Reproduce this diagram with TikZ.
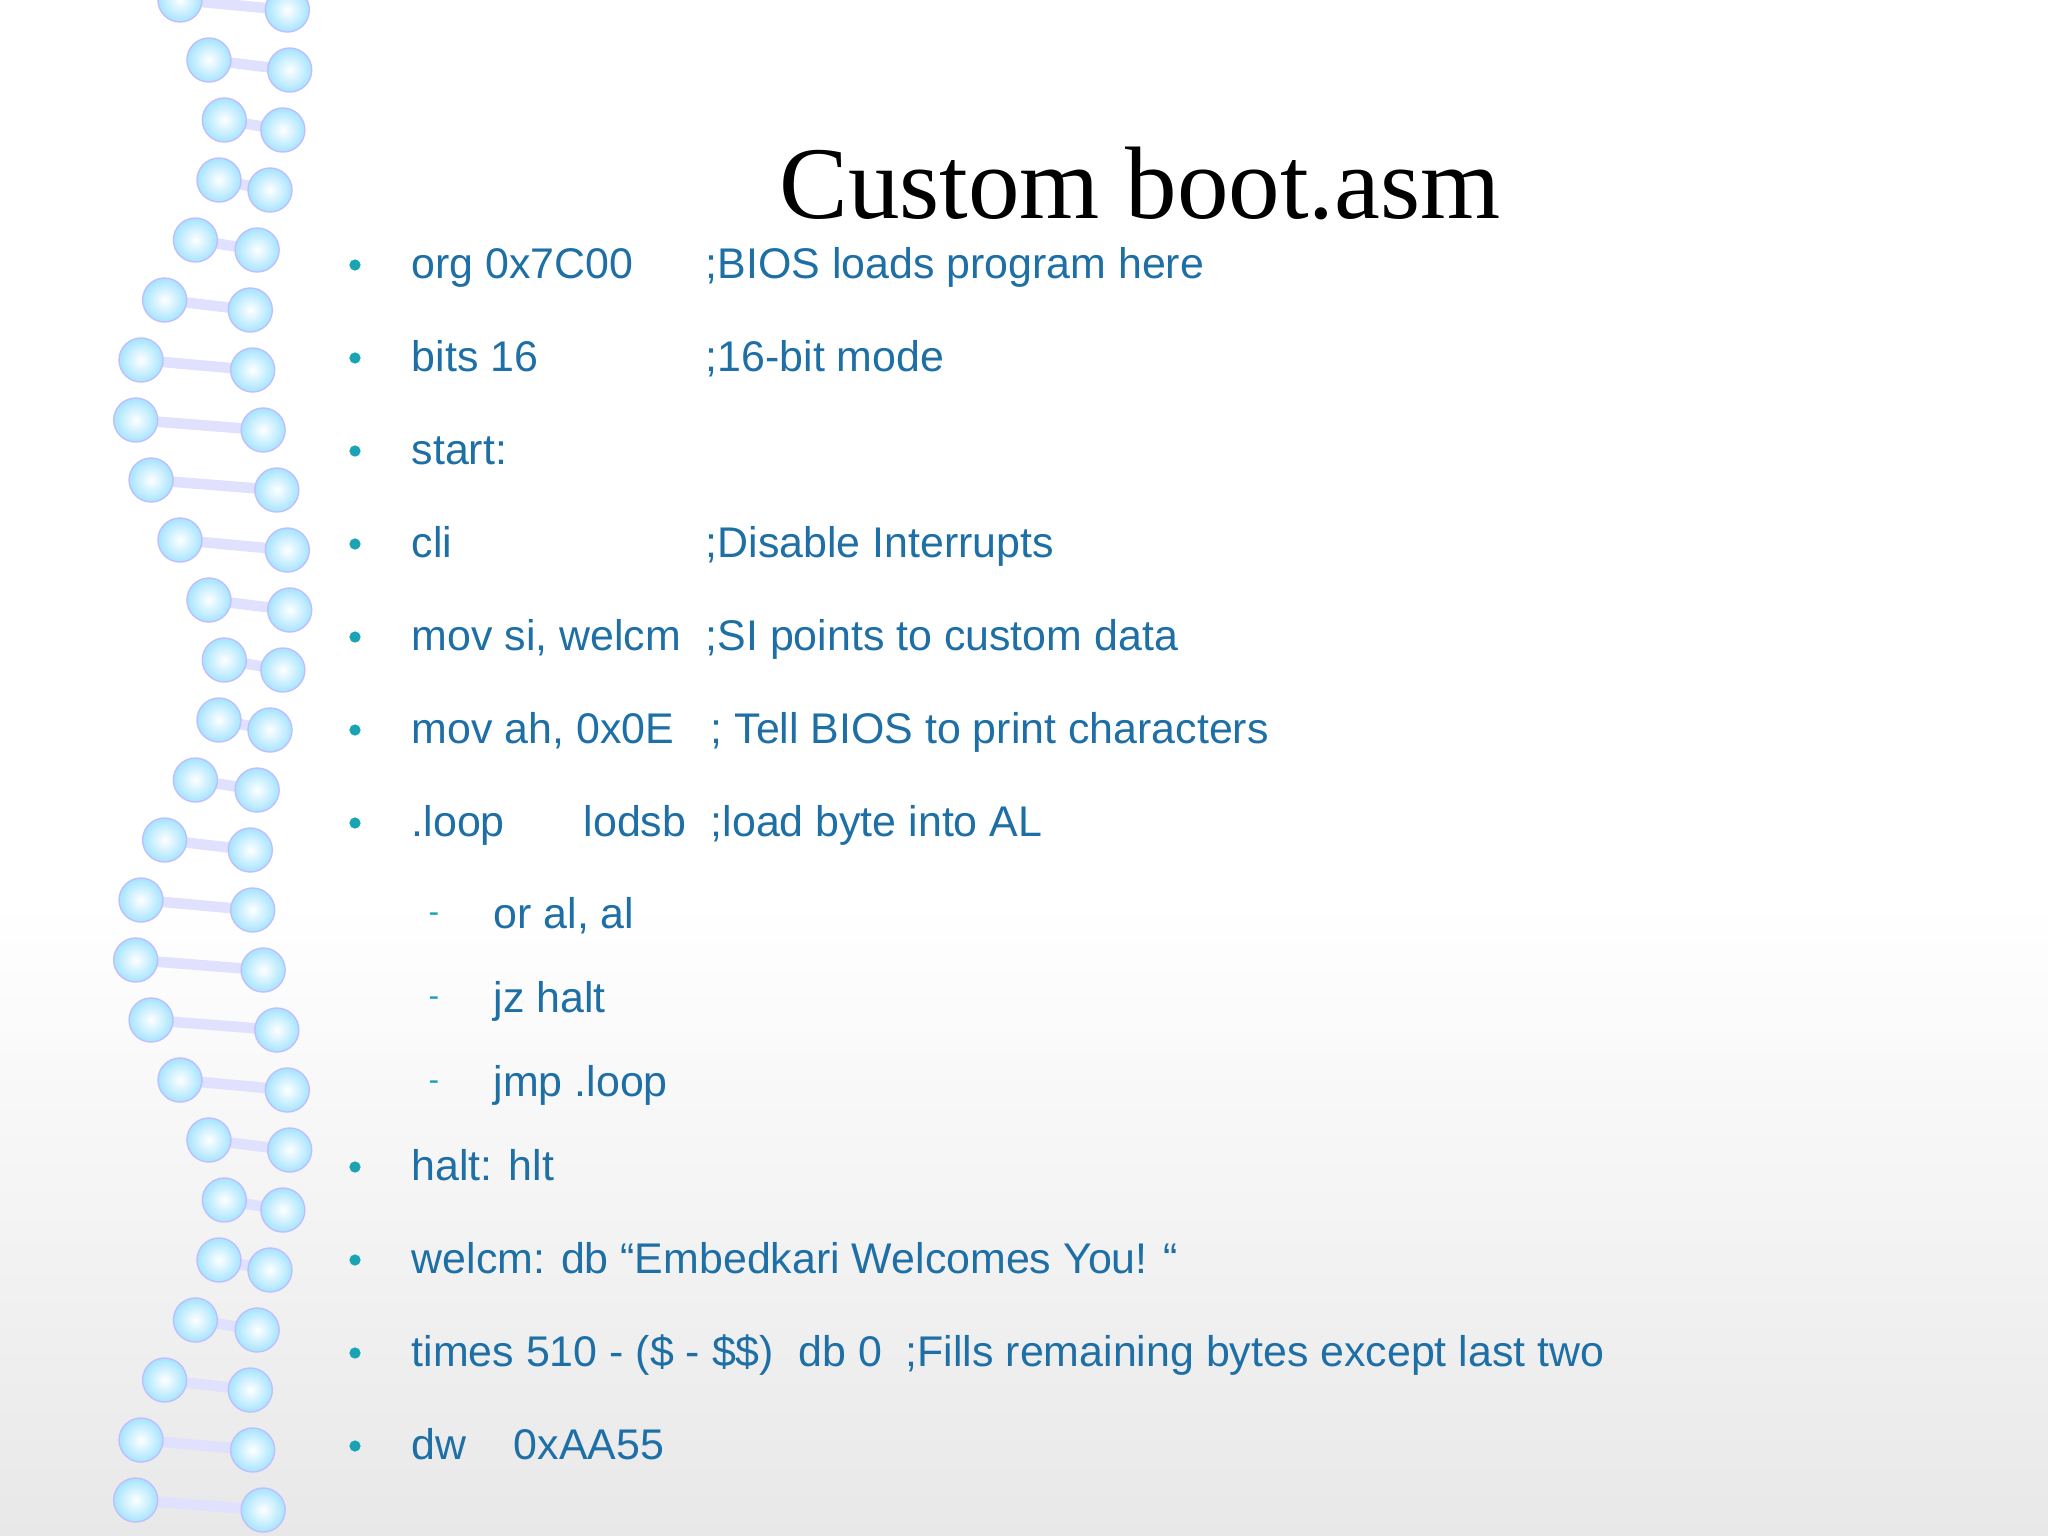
\documentclass[tikz,border=0pt]{standalone}
\usepackage{fontspec}
\setmainfont{Liberation Serif}
\newfontfamily\bodyfont{Liberation Sans}
\definecolor{txt}{HTML}{1E6FA6}
\definecolor{bul}{HTML}{1AA3B3}
\begin{document}
\begin{tikzpicture}[x=0.01cm,y=-0.01cm,
  ln/.style={anchor=base west,inner sep=0,text=txt,font=\bodyfont\fontsize{12.2}{14}\selectfont},
  bdot/.style={circle,fill=bul,inner sep=0,minimum size=3.2pt},
  sdash/.style={anchor=base west,inner sep=0,text=bul,font=\bodyfont\fontsize{9}{10}\selectfont},
  ball/.style={inner color=white,outer color=blue!30!cyan!35,draw=blue!25,line width=0.4pt},
  ttl/.style={anchor=base,inner sep=0,font=\fontsize{29.3}{32}\selectfont}]
\useasboundingbox (0,0) rectangle (2048,1535);
\fill[white] (0,0) rectangle (2048,900);
\shade[top color=white,bottom color=black!9] (0,900) rectangle (2048,1535);
% DNA decoration
\foreach \i in {0,...,25}{
  \pgfmathsetmacro\yy{\i*60}
  \pgfmathsetmacro\xl{180+45*sin(\i*40)}
  \pgfmathsetmacro\xr{270+20*sin(\i*40+60)}
  \draw[blue!12,line width=3pt] (\xl,\yy) -- (\xr,\yy+10);
  \path[ball] (\xl,\yy) circle (22);
  \path[ball] (\xr,\yy+10) circle (22);
}
\node[ttl] (title) at (1140,218) {Custom boot.asm};
% bullets
\foreach \y/\n in {278/a,371/b,464/c,557/d,650/e,743/f,836/g,1180/h,1273/i,1366/j,1459/k}
  \node[bdot] (b\n) at (355,\y-13) {};
\node[ln] (l1) at (411,278) {org 0x7C00};
\node[ln] (c1) at (705,278) {;BIOS loads program here};
\node[ln] (l2) at (411,371) {bits 16};
\node[ln] (c2) at (705,371) {;16-bit mode};
\node[ln] (l3) at (411,464) {start:};
\node[ln] (l4) at (411,557) {cli};
\node[ln] (c4) at (705,557) {;Disable Interrupts};
\node[ln] (l5) at (411,650) {mov si, welcm};
\node[ln] (c5) at (705,650) {;SI points to custom data};
\node[ln] (l6) at (411,743) {mov ah, 0x0E};
\node[ln] (c6) at (710,743) {; Tell BIOS to print characters};
\node[ln] (l7) at (411,836) {.loop};
\node[ln] (m7) at (583,836) {lodsb};
\node[ln] (c7) at (710,836) {;load byte into AL};
\foreach \y/\n/\t in {928/s1/{or al, al},1012/s2/{jz halt},1096/s3/{jmp .loop}}{
  \node[sdash] (d\n) at (428,\y-6) {-};
  \node[ln] (\n) at (493,\y) {\t};
}
\node[ln] (l8) at (411,1180) {halt: hlt};
\node[ln] (l9) at (411,1273) {welcm: db “Embedkari Welcomes You! “};
\node[ln] (l10) at (411,1366) {times 510 - (\$ - \$\$)};
\node[ln] (m10) at (798,1366) {db 0};
\node[ln] (c10) at (905,1366) {;Fills remaining bytes except last two};
\node[ln] (l11) at (411,1459) {dw};
\node[ln] (m11) at (513,1459) {0xAA55};
\end{tikzpicture}
\end{document}
